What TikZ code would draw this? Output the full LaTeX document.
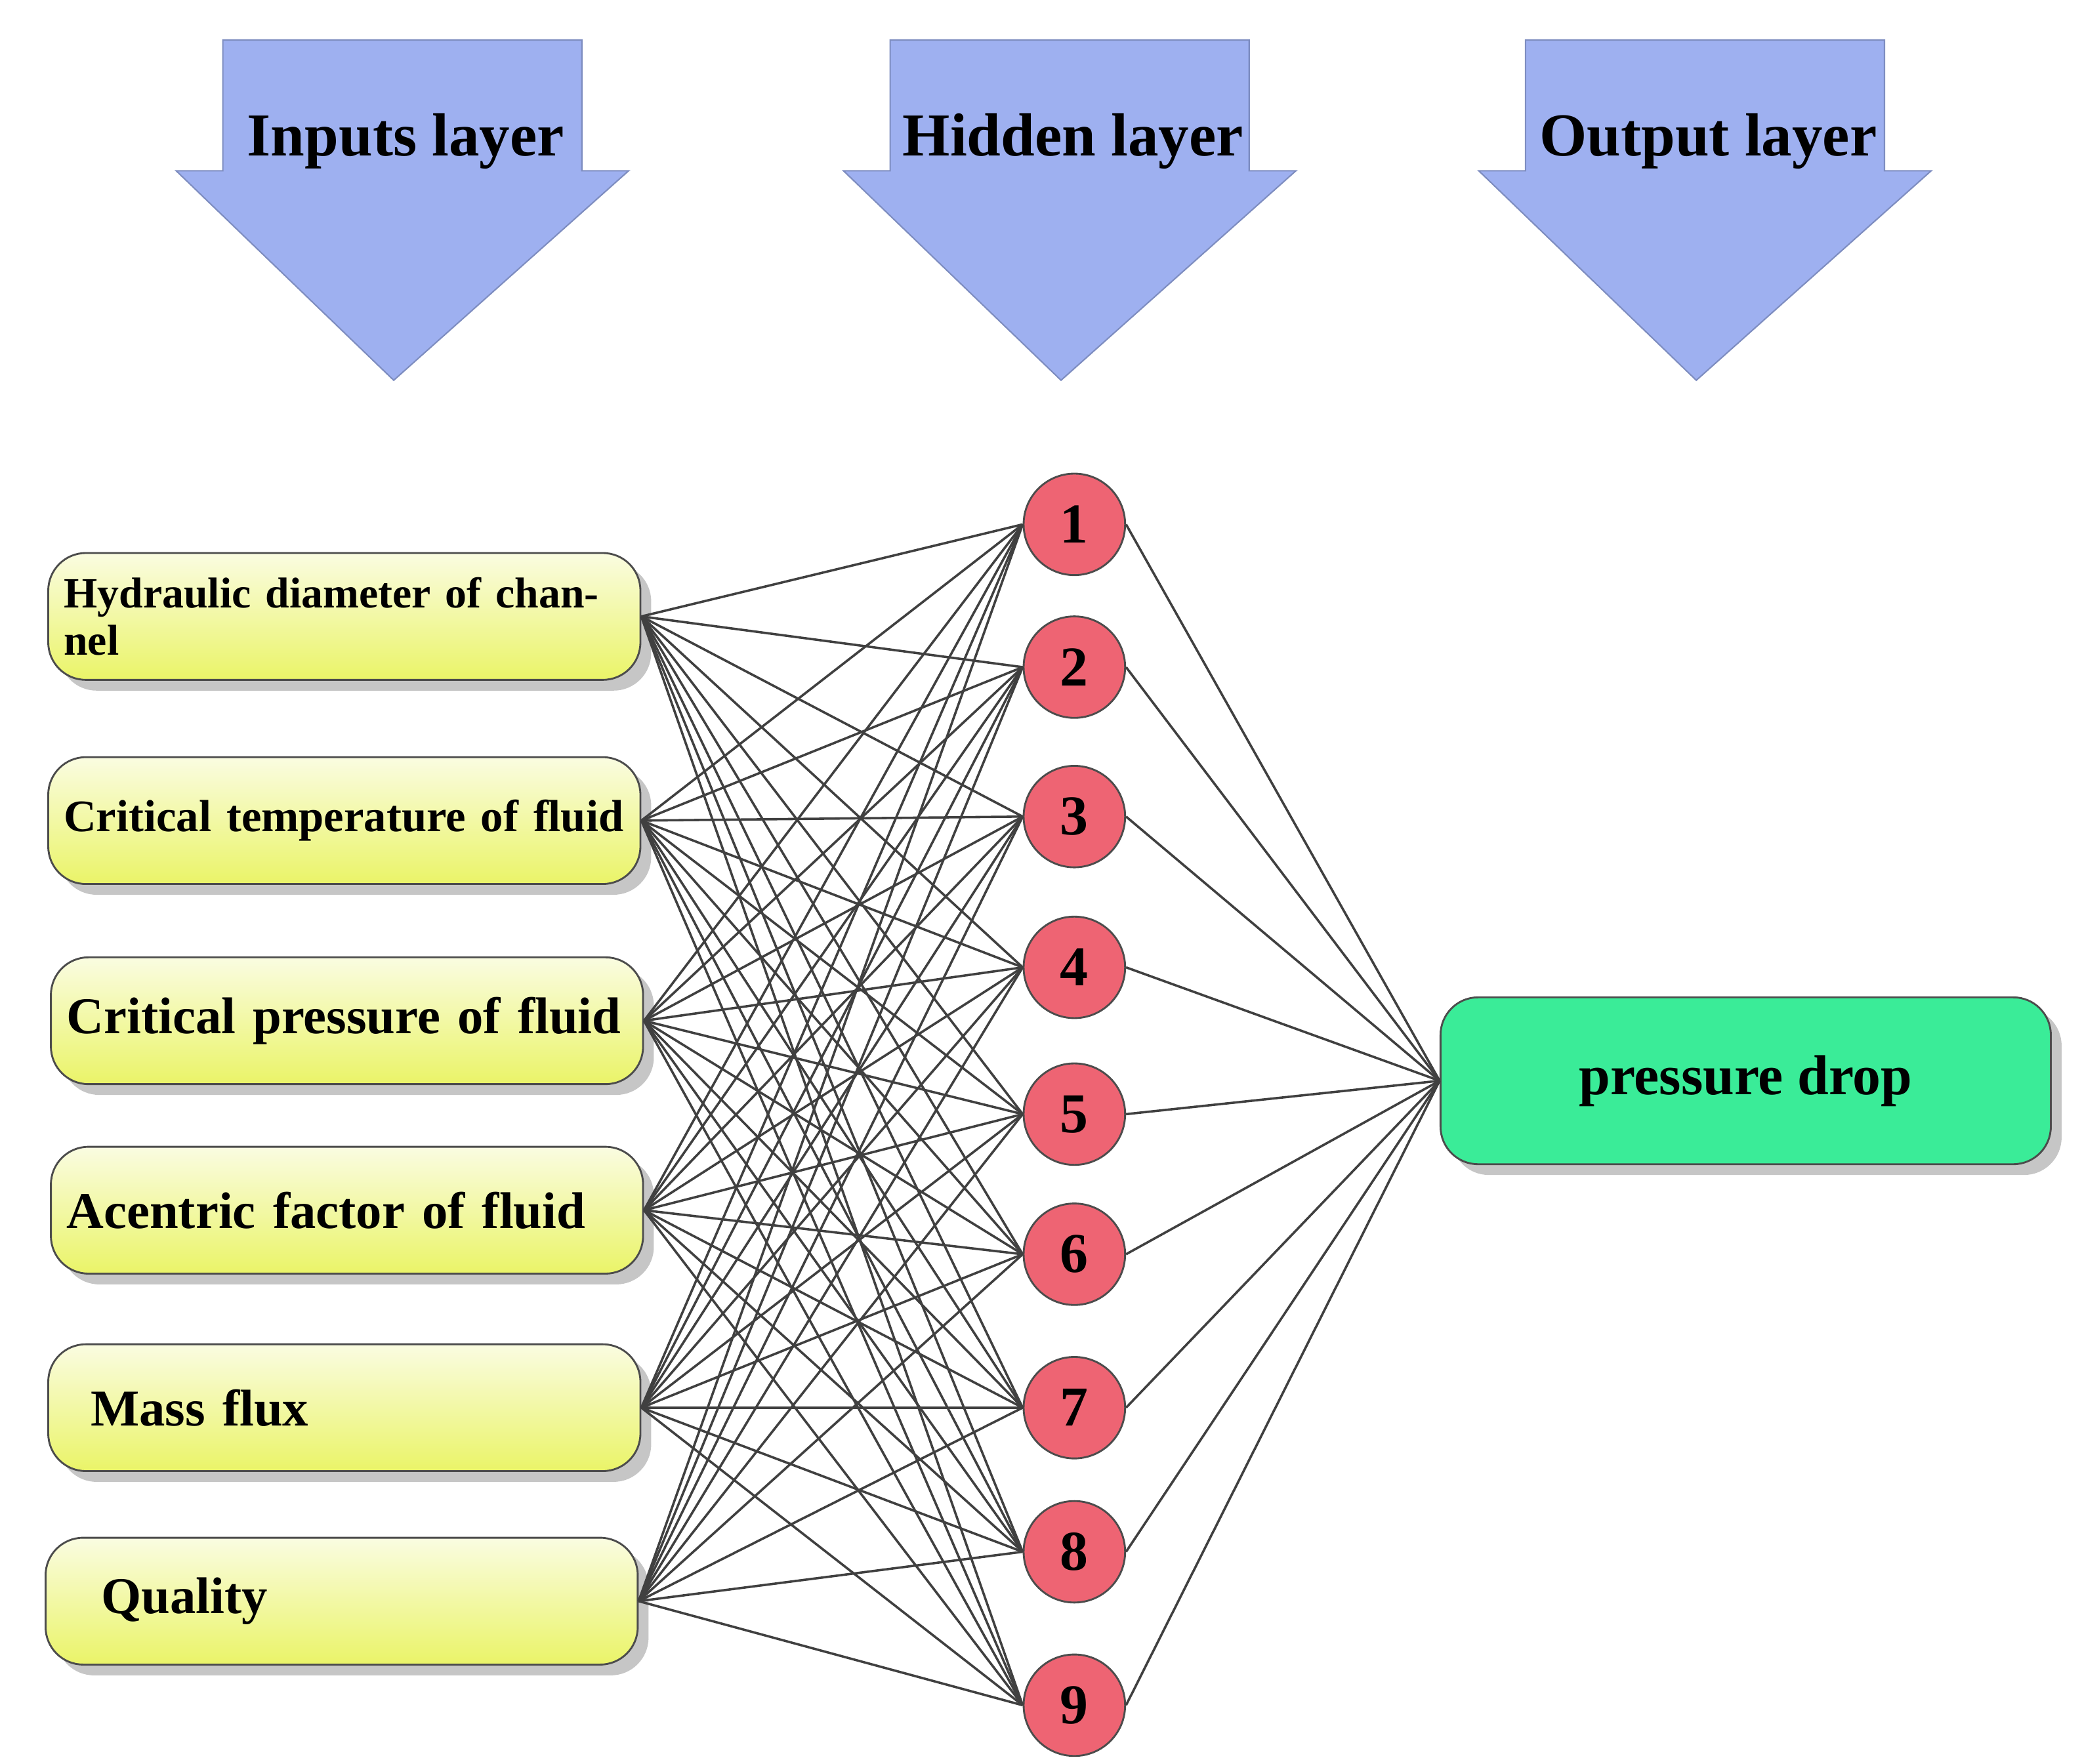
\documentclass[tikz,border=0pt]{standalone}
\usepackage{fontspec}
\setmainfont{Liberation Serif}
\usetikzlibrary{shadows}
\definecolor{arrowblue}{RGB}{158,176,240}
\definecolor{boxyellow}{RGB}{234,244,104}
\definecolor{boxlight}{RGB}{250,252,225}
\definecolor{nodered}{RGB}{238,100,115}
\definecolor{outgreen}{RGB}{58,236,152}
\tikzset{
    inbox/.style = {draw = black!70, rounded corners = 8pt, top color = boxlight, bottom color = boxyellow,
        minimum width = 4.37cm, minimum height = 0.95cm, text width = 4.2cm, align = left,
        font = \bfseries, drop shadow = {opacity = 0.45}},
    hidden/.style = {draw = black!70, circle, fill = nodered, minimum size = 0.76cm, inner sep = 0pt,
        font = \fontsize{12}{12}\selectfont\bfseries},
    outbox/.style = {draw = black!70, rounded corners = 8pt, fill = outgreen, minimum width = 4.57cm,
        minimum height = 1.25cm, font = \fontsize{12}{12}\selectfont\bfseries, drop shadow = {opacity = 0.45}},
    layerarrow/.style = {fill = arrowblue, draw = arrowblue!80!black, line width = 0.3pt},
    link/.style = {draw = black!75, line width = 0.5pt}
}
\begin{document}
\begin{tikzpicture}[x = 0.01cm, y = -0.01cm]
    \useasboundingbox (0,0) rectangle (1560,1322);
    % layer arrows
    \foreach \c/\txt in {300/Inputs layer, 800/Hidden layer, 1276/Output layer} {
        \draw[layerarrow] (\c-133,30) -- (\c+136,30) -- (\c+136,128) -- (\c+171,128) -- (\c-5,285)
            -- (\c-168,128) -- (\c-133,128) -- cycle;
        \node[font = \fontsize{13}{13}\selectfont\bfseries] at (\c+4,106) {\txt};
    }
    % inputs
    \node[inbox, font = \fontsize{9.2}{10}\selectfont\bfseries] (hyd) at (258,462) {Hydraulic diameter of channel};
    \node[inbox, font = \fontsize{9.6}{10}\selectfont\bfseries] (ctemp) at (258,615) {Critical temperature of fluid};
    \node[inbox, font = \fontsize{11}{12}\selectfont\bfseries] (cpres) at (260,765) {Critical pressure of fluid};
    \node[inbox, font = \fontsize{11}{12}\selectfont\bfseries] (acen) at (260,907) {Acentric factor of fluid};
    \node[inbox, font = \fontsize{11}{12}\selectfont\bfseries] (mass) at (258,1055) {\hspace{0.2cm}Mass flux};
    \node[inbox, font = \fontsize{11}{12}\selectfont\bfseries] (qual) at (256,1200) {\hspace{0.3cm}Quality};
    % hidden neurons
    \foreach \i/\y in {1/393, 2/500, 3/612, 4/725, 5/835, 6/940, 7/1055, 8/1163, 9/1278}
        \node[hidden] (h\i) at (805,\y) {\i};
    % output
    \node[outbox] (out) at (1308,810) {pressure drop};
    % connections
    \foreach \a in {hyd, ctemp, cpres, acen, mass, qual}
        \foreach \i in {1,...,9}
            \draw[link] (\a.east) -- (h\i.west);
    \foreach \i in {1,...,9}
        \draw[link] (h\i.east) -- (out.west);
\end{tikzpicture}
\end{document}
